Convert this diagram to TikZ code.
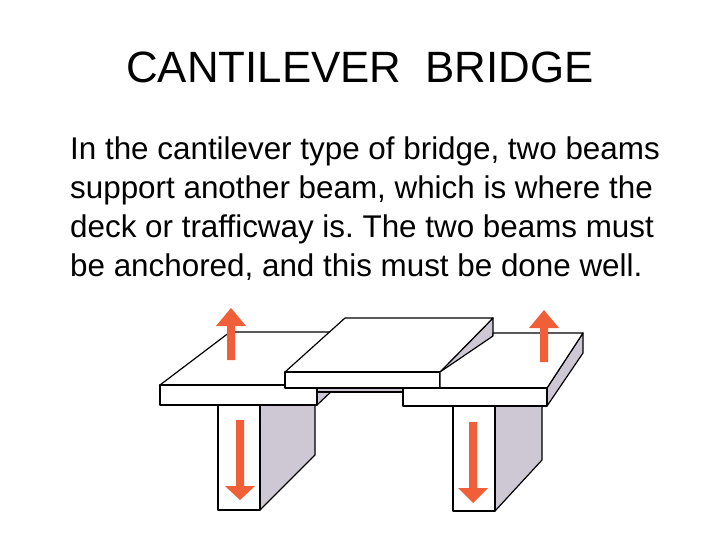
\documentclass[tikz,border=0pt]{standalone}
\usepackage{fontspec}
\setmainfont{Liberation Sans}
\frenchspacing
\begin{document}
\begin{tikzpicture}[x=1bp,y=-1bp,
  face/.style={draw=black,line width=1.2pt,fill=white,line join=round},
  shade/.style={draw=black,line width=1.2pt,fill={rgb,255:red,205;green,200;blue,212},line join=round},
  arr/.style={fill={rgb,255:red,240;green,95;blue,55},draw=none}]
\useasboundingbox (0,0) rectangle (720,540);
\node[anchor=base,font=\fontsize{44}{50}\selectfont] (title) at (360,83) {CANTILEVER\ \ BRIDGE};
\node[anchor=north west,align=left,inner sep=0pt,font=\fontsize{31.5}{39}\selectfont] (body) at (70,137)
 {In the cantilever type of bridge, two beams\\support another beam, which is where the\\deck or trafficway is. The two beams must\\be anchored, and this must be done well.};
% left pillar
\draw[shade] (260,405) -- (315,405) -- (315,455) -- (260,510) -- cycle;
\draw[face] (218,405) rectangle (260,510);
% right pillar
\draw[shade] (495,406) -- (542,406) -- (542,460) -- (495,511) -- cycle;
\draw[face] (453,406) rectangle (495,511);
% left slab
\draw[shade] (317,385) -- (335,368) -- (335,388) -- (317,405) -- cycle;
\draw[face] (160,385) -- (230,332) -- (335,332) -- (335,368) -- (317,385) -- cycle;
\draw[face] (160,385) rectangle (317,405);
% middle slab
\draw[shade] (317,388) rectangle (403,392);
\draw[shade] (440,372) -- (493,318) -- (493,336) -- (440,388) -- cycle;
\draw[face] (285,372) -- (345,318) -- (493,318) -- (440,372) -- cycle;
\draw[face] (285,372) rectangle (440,388);
% right slab
\draw[shade] (547,388) -- (583,333) -- (583,353) -- (547,406) -- cycle;
\draw[face] (493,333) -- (583,333) -- (547,388) -- (440,388) -- (440,372) -- (493,336) -- cycle;
\draw[face] (403,388) rectangle (547,406);
% arrows
\fill[arr] (227,360) -- (227,326) -- (216,326) -- (231,308) -- (246,326) -- (235,326) -- (235,360) -- cycle;
\fill[arr] (540,362) -- (540,328) -- (529,328) -- (544,310) -- (559,328) -- (548,328) -- (548,362) -- cycle;
\fill[arr] (236,420) -- (236,486) -- (225,486) -- (240,500) -- (255,486) -- (244,486) -- (244,420) -- cycle;
\fill[arr] (469,422) -- (469,488) -- (458,488) -- (473,503) -- (488,488) -- (477,488) -- (477,422) -- cycle;
\end{tikzpicture}
\end{document}
